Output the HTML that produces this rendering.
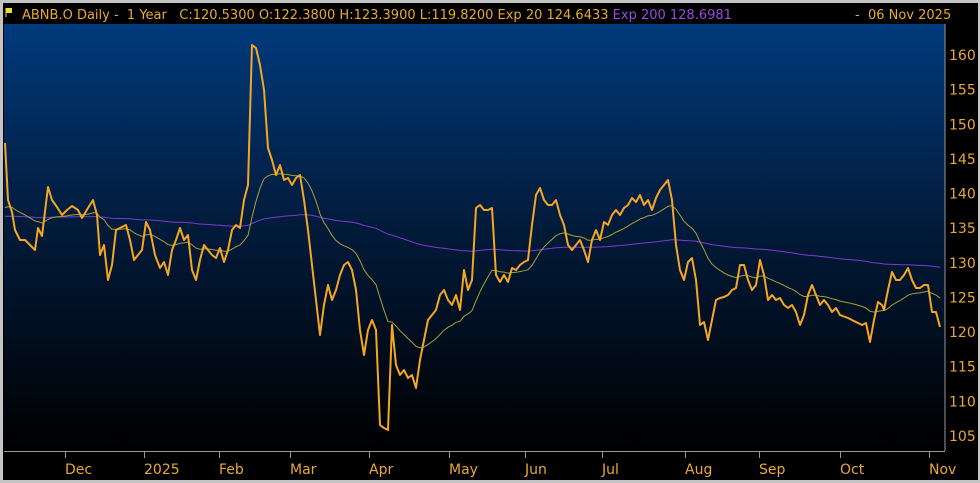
<!DOCTYPE html><html><head><style>
html,body{margin:0;padding:0;background:#c4c4c4;width:980px;height:483px;overflow:hidden}
svg{display:block}
text{font-family:"DejaVu Sans","Liberation Sans",sans-serif;fill:#e8a838}
</style></head><body>
<svg width="980" height="483" xmlns="http://www.w3.org/2000/svg">
<defs><linearGradient id="g" x1="0" y1="0" x2="0" y2="1">
<stop offset="0" stop-color="#003a7c"/><stop offset="0.45" stop-color="#021c3e"/><stop offset="1" stop-color="#000000"/></linearGradient></defs>
<rect x="3" y="3" width="975" height="477" fill="#000"/>
<rect x="4" y="24" width="941" height="427" fill="url(#g)"/>
<line x1="945" y1="24" x2="945" y2="451" stroke="#999" stroke-width="1"/>
<line x1="4" y1="451.5" x2="945" y2="451.5" stroke="#999" stroke-width="1"/>
<g stroke="#999" stroke-width="1" id="ticks"></g>
<rect x="6" y="8" width="6" height="5" fill="#e8e030"/>
<line x1="6" y1="8" x2="6" y2="17" stroke="#e8e030"/>
<text x="22" y="19" font-size="13">ABNB.O Daily -&#160;&#160;1 Year&#160;&#160;&#160;C:120.5300 O:122.3800 H:123.3900 L:119.8200 Exp 20 124.6433 <tspan fill="#9a4ae0">Exp 200 128.6981</tspan></text>
<text x="855" y="19" font-size="13">-&#160;&#160;06 Nov 2025</text>
<g id="ylab" font-size="14"></g>
<g id="xlab" font-size="14"></g>
<polyline id="e200" fill="none" stroke="#7a3cd0" stroke-width="1"/>
<polyline id="e20" fill="none" stroke="#a8a030" stroke-width="1"/>
<polyline id="px" fill="none" stroke="#f5a623" stroke-width="2" stroke-linejoin="round"/>
</svg>
<script>
var NS="http://www.w3.org/2000/svg";
function Y(v){return 55+(160-v)*6.927;}
function V(y){return 160-(y-55)/6.927;}
var yl=document.getElementById('ylab');
for(var v=105;v<=160;v+=5){var t=document.createElementNS(NS,'text');t.setAttribute('x',949);t.setAttribute('y',Y(v)+5);t.textContent=v;yl.appendChild(t);}
var xs=[[65,'Dec'],[144,'2025'],[219,'Feb'],[290,'Mar'],[369,'Apr'],[449,'May'],[525,'Jun'],[602,'Jul'],[685,'Aug'],[759,'Sep'],[840,'Oct'],[929,'Nov']];
var xl=document.getElementById('xlab'),tk=document.getElementById('ticks');
xs.forEach(function(a){var t=document.createElementNS(NS,'text');t.setAttribute('x',a[0]);t.setAttribute('y',474);t.textContent=a[1];xl.appendChild(t);
var l=document.createElementNS(NS,'line');l.setAttribute('x1',a[0]+.5);l.setAttribute('x2',a[0]+.5);l.setAttribute('y1',451);l.setAttribute('y2',458);tk.appendChild(l);});
var P=[5,143,8,200,12,212,15,230,20,240,25,240,30,245,35,250,38,228,42,236,48,187,52,200,57,207,62,215,67,210,72,206,78,210,82,218,88,208,93,200,97,215,100,255,104,245,108,280,112,265,116,230,120,228,126,225,130,240,134,260,138,255,142,250,146,222,150,230,155,255,160,268,164,262,168,275,172,250,176,240,180,228,184,240,188,235,192,270,196,280,200,260,204,245,208,250,212,255,216,258,220,248,224,262,228,250,232,230,236,225,240,228,244,200,248,185,252,45,256,48,260,65,264,90,268,148,272,160,276,175,280,165,284,180,288,178,292,185,296,178,300,175,304,200,308,230,312,265,316,300,320,335,324,305,328,285,332,300,336,290,340,275,344,265,348,262,352,270,356,290,360,330,364,355,368,330,372,320,376,330,380,425,384,428,388,430,392,325,396,365,400,375,404,370,408,378,412,375,416,388,420,360,424,340,428,320,432,315,436,310,440,295,444,290,448,300,452,305,456,295,460,310,464,270,468,290,472,280,476,208,480,205,484,210,488,210,492,208,496,275,500,282,504,275,508,282,512,268,516,270,520,265,524,262,528,260,532,225,536,195,540,188,544,200,548,205,552,205,556,200,560,215,564,225,568,245,572,250,576,245,580,240,584,250,588,262,592,240,596,230,600,240,604,222,608,225,612,215,616,210,620,215,624,208,628,205,632,198,636,202,640,195,644,205,648,200,652,210,656,198,660,190,664,185,668,180,672,200,676,245,680,270,684,280,688,262,692,258,696,280,700,325,704,322,708,340,712,320,716,300,720,298,724,297,728,295,732,290,736,288,740,265,744,265,748,280,752,290,756,285,760,260,764,275,768,300,772,295,776,300,780,298,784,305,788,308,792,305,796,312,800,325,804,315,808,295,812,285,816,295,820,305,824,300,828,305,832,312,836,308,840,315,848,318,856,322,862,325,866,323,870,342,874,320,878,302,882,305,884,310,888,290,892,272,896,280,900,280,904,275,908,268,912,280,916,288,920,288,924,285,928,285,932,312,936,312,940,327];
var pts=[],e20=[],e200=[],a=137,b=136.6;
for(var i=0;i<P.length;i+=2){var x=P[i],v=V(P[i+1]);pts.push(x+','+P[i+1]);
a+= (v-a)*2/21; b+=(v-b)*2/201; e20.push(x+','+Y(a).toFixed(1)); e200.push(x+','+Y(b).toFixed(1));}
document.getElementById('px').setAttribute('points',pts.join(' '));
document.getElementById('e20').setAttribute('points',e20.join(' '));
document.getElementById('e200').setAttribute('points',e200.join(' '));
</script>
</body></html>
